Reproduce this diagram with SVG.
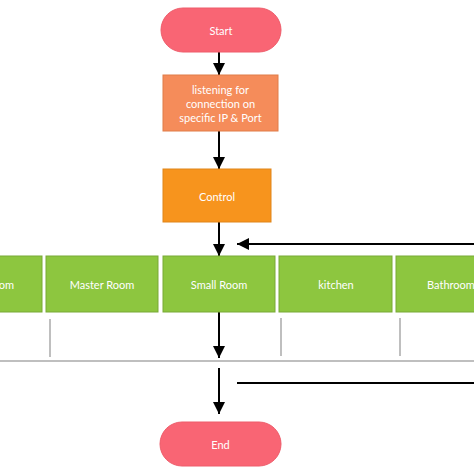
<svg xmlns="http://www.w3.org/2000/svg" width="474" height="474" viewBox="0 0 474 474">
<defs>
<style>
.t{font-family:Lato,"Liberation Sans",sans-serif;font-size:11px;fill:#ffffff;text-anchor:middle;dominant-baseline:central}
.term{fill:#f96574;stroke:#ee5c6a;stroke-width:1}
.room{fill:#8dc63f;stroke:#78a936;stroke-width:1}
.c{stroke:#000;stroke-width:2;fill:none}
.g{stroke:#aaaaaa;stroke-width:1.5;fill:none}
</style>
<marker id="ah" viewBox="0 0 10 10" refX="10" refY="5" markerWidth="6" markerHeight="6" orient="auto" markerUnits="strokeWidth">
<path d="M0,0 L10,5 L0,10 Z" fill="#000"/>
</marker>
</defs>
<rect width="474" height="474" fill="#ffffff"/>
<g id="connectors">
<line class="c" x1="219" y1="52" x2="219" y2="75" marker-end="url(#ah)"/>
<line class="c" x1="219" y1="131" x2="219" y2="169" marker-end="url(#ah)"/>
<line class="c" x1="219" y1="222" x2="219" y2="256" marker-end="url(#ah)"/>
<line class="c" x1="474" y1="244" x2="237" y2="244" marker-end="url(#ah)"/>
<line class="c" x1="219" y1="312" x2="219" y2="358" marker-end="url(#ah)"/>
<line class="c" x1="219" y1="368" x2="219" y2="414" marker-end="url(#ah)"/>
<line class="c" x1="237" y1="383" x2="474" y2="383"/>
<line class="g" x1="50" y1="319" x2="50" y2="357"/>
<line class="g" x1="281" y1="318" x2="281" y2="356"/>
<line class="g" x1="400" y1="318" x2="400" y2="356"/>
<line class="g" x1="0" y1="361" x2="474" y2="361"/>
</g>
<g id="start">
<rect class="term" x="161" y="8" width="120" height="44" rx="22"/>
<text class="t" x="221" y="30">Start</text>
</g>
<g id="listen">
<rect x="163" y="75" width="115" height="56" fill="#f58c5a" stroke="#e07c48" stroke-width="1"/>
<text class="t" x="220.5" y="89">listening for</text>
<text class="t" x="220.5" y="103">connection on</text>
<text class="t" x="220.5" y="117">specific IP &amp; Port</text>
</g>
<g id="control">
<rect x="163" y="169" width="108" height="53" fill="#f7941d" stroke="#e0851a" stroke-width="1"/>
<text class="t" x="217" y="196">Control</text>
</g>
<g id="room1">
<rect class="room" x="-70" y="256" width="112" height="56"/>
<text class="t" x="14" y="284" style="text-anchor:end">om</text>
</g>
<g id="master">
<rect class="room" x="46" y="256" width="112" height="56"/>
<text class="t" x="102" y="284">Master Room</text>
</g>
<g id="small">
<rect class="room" x="163" y="256" width="112" height="56"/>
<text class="t" x="219" y="284">Small Room</text>
</g>
<g id="kitchen">
<rect class="room" x="279" y="256" width="113" height="56"/>
<text class="t" x="336" y="284">kitchen</text>
</g>
<g id="bathroom">
<rect class="room" x="396" y="256" width="112" height="56"/>
<text class="t" x="451" y="284">Bathroom</text>
</g>
<g id="end">
<rect class="term" x="160" y="422" width="121" height="44" rx="22"/>
<text class="t" x="220.5" y="444">End</text>
</g>
</svg>
